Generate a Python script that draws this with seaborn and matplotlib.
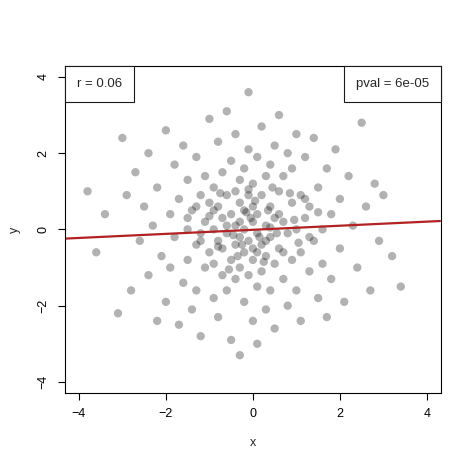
import matplotlib
matplotlib.use("Agg")
import matplotlib.pyplot as plt
import seaborn as sns
from matplotlib.offsetbox import AnchoredText

# scatter points read (roughly) off the reference cloud
x_vals = [
    -3.8, -3.6, -3.4, -3.1, -3.0, -2.9, -2.8, -2.7, -2.6, -2.5,
    -2.4, -2.4, -2.3, -2.2, -2.2, -2.1, -2.0, -2.0, -1.9, -1.9,
    -1.8, -1.8, -1.7, -1.7, -1.6, -1.6, -1.5, -1.5, -1.5, -1.4,
    -1.4, -1.3, -1.3, -1.3, -1.2, -1.2, -1.2, -1.1, -1.1, -1.1,
    -1.0, -1.0, -1.0, -0.9, -0.9, -0.9, -0.9, -0.8, -0.8, -0.8,
    -0.8, -0.7, -0.7, -0.7, -0.7, -0.6, -0.6, -0.6, -0.6, -0.5,
    -0.5, -0.5, -0.5, -0.4, -0.4, -0.4, -0.4, -0.4, -0.3, -0.3,
    -0.3, -0.3, -0.3, -0.2, -0.2, -0.2, -0.2, -0.2, -0.1, -0.1,
    -0.1, -0.1, -0.1, 0.0, 0.0, 0.0, 0.0, 0.0, 0.1, 0.1,
    0.1, 0.1, 0.1, 0.2, 0.2, 0.2, 0.2, 0.3, 0.3, 0.3,
    0.3, 0.4, 0.4, 0.4, 0.4, 0.5, 0.5, 0.5, 0.5, 0.6,
    0.6, 0.6, 0.7, 0.7, 0.7, 0.8, 0.8, 0.8, 0.9, 0.9,
    0.9, 1.0, 1.0, 1.0, 1.1, 1.1, 1.1, 1.2, 1.2, 1.3,
    1.3, 1.4, 1.4, 1.5, 1.5, 1.6, 1.6, 1.7, 1.7, 1.8,
    1.8, 1.9, 2.0, 2.0, 2.1, 2.2, 2.3, 2.4, 2.5, 2.6,
    2.7, 2.8, 2.9, 3.0, 3.2, 3.4, -0.05, 0.15, -0.25, 0.35,
    -0.6, -0.3, 0.0, 0.3, 0.6, -0.9, -0.45, 0.05, 0.55, 0.95,
    -1.2, -0.75, -0.15, 0.45, 1.05, -0.55, 0.25, 0.85, -1.0, 1.2,
    -1.5, 1.5, -0.35, 0.7, -0.1, 0.4, -0.8, 1.3, -1.3, 0.1,
]
y_vals = [
    1.0, -0.6, 0.4, -2.2, 2.4, 0.9, -1.6, 1.5, -0.3, 0.6,
    -1.2, 2.0, 0.1, -2.4, 1.1, -0.7, 2.6, -1.9, 0.4, -1.0,
    1.7, -0.2, -2.5, 0.8, -1.4, 2.2, 0.3, -0.8, 1.3, -2.1,
    0.5, -0.4, 1.9, -1.6, 0.9, -0.1, -2.8, 1.4, -1.0, 0.2,
    2.9, -0.6, 0.7, -1.8, 1.1, 0.0, -0.9, 2.3, -0.3, 0.6,
    -2.3, 1.5, -1.2, 0.3, -0.5, 0.9, -0.1, -1.6, 3.1, 0.4,
    -0.8, 1.8, -2.9, 0.1, 1.0, -0.4, -1.3, 2.5, 0.7, -0.2,
    1.3, -1.0, -3.3, 0.5, -0.6, 1.6, -1.9, 0.0, 3.6, 0.9,
    -0.3, -1.2, 2.1, 0.2, -0.8, 1.2, -2.4, 0.6, -0.1, 1.9,
    -1.5, 0.4, -3.0, 0.9, -0.4, 2.7, -1.1, 0.1, 1.4, -0.7,
    -2.1, 0.6, -0.2, 1.7, -1.6, 0.3, -0.9, 2.2, -2.6, 1.0,
    -0.5, 3.0, 0.2, -1.3, 1.4, -0.1, 2.0, -2.0, 0.7, -0.8,
    1.6, 0.0, -1.6, 2.5, 0.9, -0.6, -2.4, 0.3, 1.9, -1.1,
    0.6, -0.3, 2.4, 1.1, -1.8, 0.0, -0.9, 1.6, -2.3, 0.4,
    -1.3, 2.1, 0.8, -0.5, -1.9, 1.4, 0.1, -1.0, 2.8, 0.6,
    -1.6, 1.2, -0.3, 0.9, -0.7, -1.5, 0.3, -0.2, -0.4, 0.5,
    0.1, 0.2, -0.5, -0.3, 0.4, 0.5, -0.15, 0.75, -0.1, 0.25,
    -0.3, 0.95, 0.45, 1.1, -0.35, -1.05, -0.85, 0.95, 0.35, 0.8,
    0.0, 0.45, -0.7, -0.6, 1.05, 0.05, -0.45, -0.2, 0.6, -0.6,
]

# fitted line ends
line_x = [-4.3, 4.3]
line_y = [-0.24, 0.22]

r_label = "r = 0.06"
p_label = "pval = 6e-05"

sns.set_theme(style="ticks")
plt.rcParams["font.family"] = ["Liberation Sans", "DejaVu Sans"]

fig = plt.figure(figsize=(4.74, 4.74), dpi=100)
ax = fig.add_axes([0.137, 0.171, 0.793, 0.69])

sns.scatterplot(x=x_vals, y=y_vals, color="black", alpha=0.3, s=36,
                edgecolor="none", ax=ax)
sns.lineplot(x=line_x, y=line_y, color="#B22222", linewidth=1.6, ax=ax)

ax.set_xlim(-4.32, 4.32)
ax.set_ylim(-4.29, 4.29)
ax.set_xticks([-4, -2, 0, 2, 4])
ax.set_yticks([-4, -2, 0, 2, 4])
ax.tick_params(labelsize=9, length=5, width=0.8, colors="black", pad=6)
for lab in ax.get_yticklabels():
    lab.set_rotation(90)
    lab.set_va("center")
for sp in ax.spines.values():
    sp.set_linewidth(0.8)
    sp.set_color("black")
ax.set_xlabel("x", fontsize=9, labelpad=12)
ax.set_ylabel("y", fontsize=9, labelpad=12)

for txt, loc in [(r_label, "upper left"), (p_label, "upper right")]:
    at = AnchoredText(txt, loc=loc, borderpad=0, pad=0.9, frameon=True,
                      prop=dict(size=9.5))
    at.patch.set_boxstyle("square,pad=0")
    at.patch.set_linewidth(0.8)
    ax.add_artist(at)

fig.savefig("out.png", dpi=100)
